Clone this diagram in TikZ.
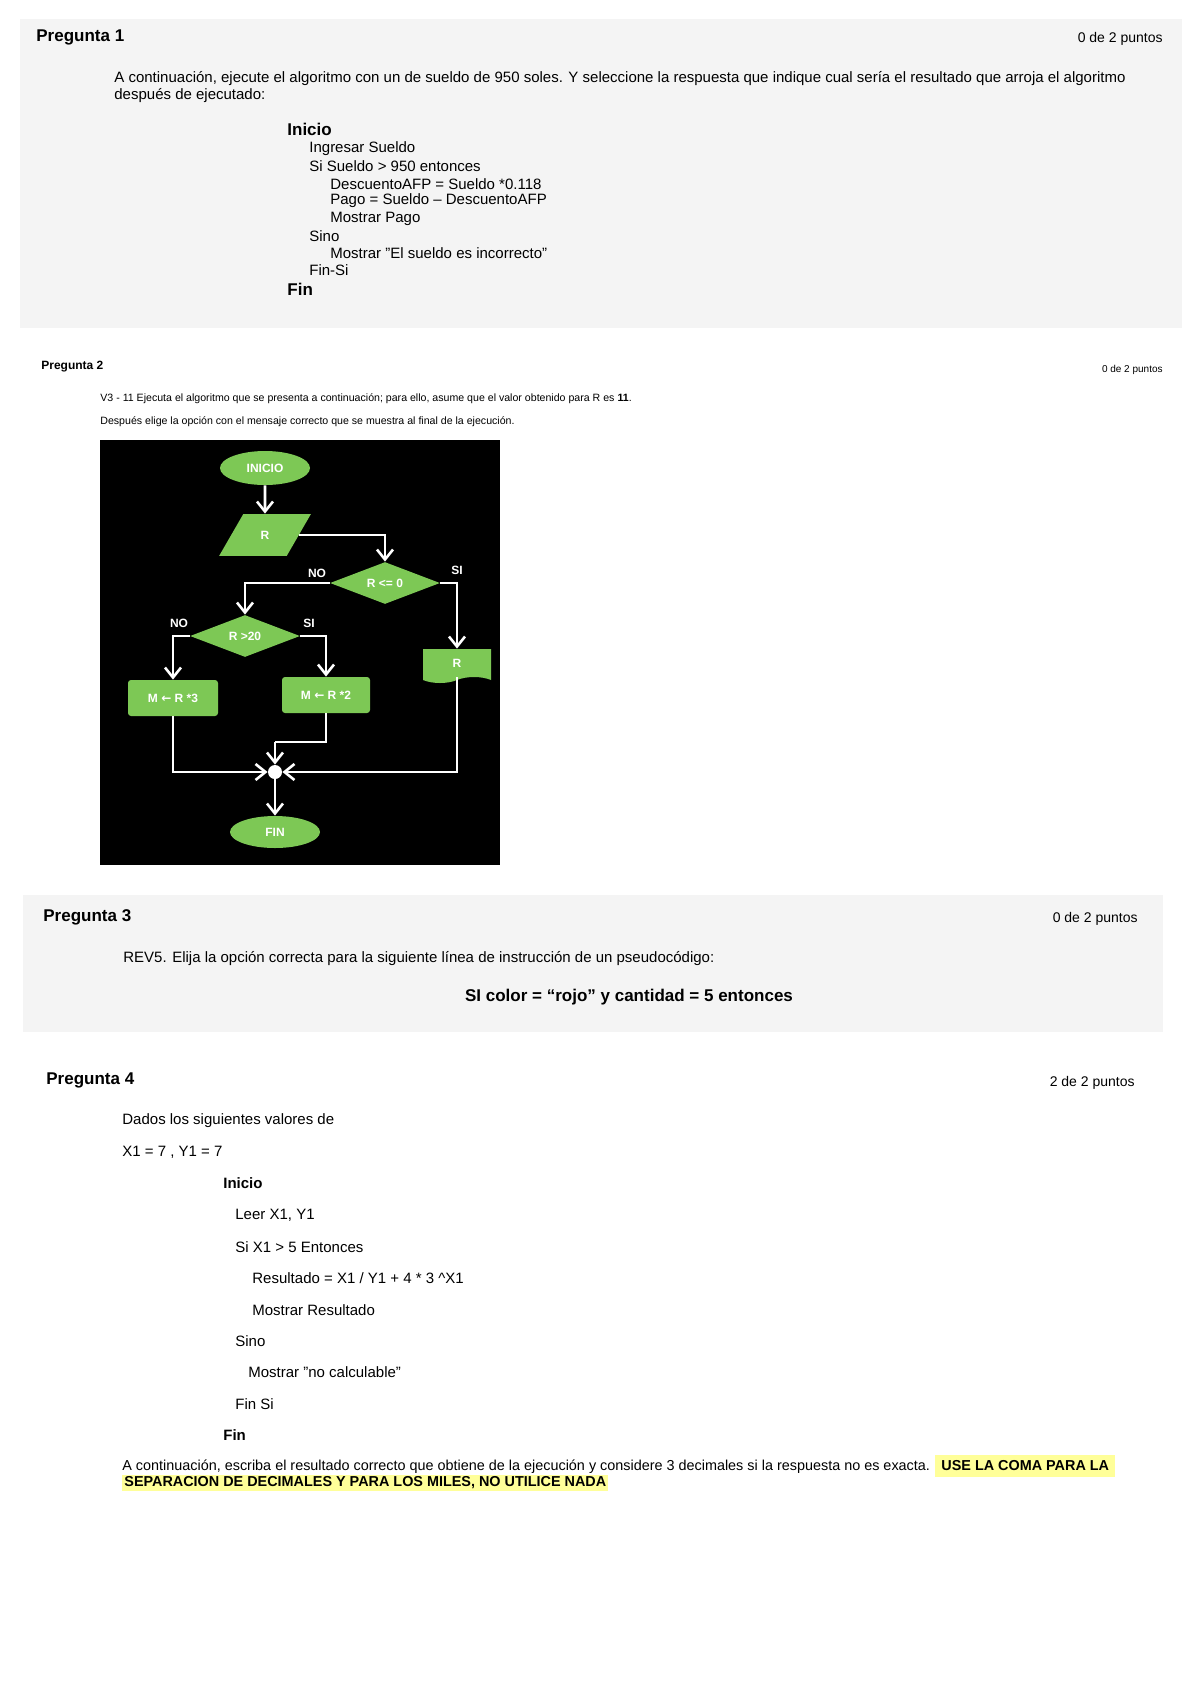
\documentclass[tikz,border=0pt]{standalone}
\usepackage{fontspec}
\setmainfont{Liberation Sans}
\newfontfamily\symfont{DejaVu Sans}
\usetikzlibrary{shapes.geometric,shapes.symbols,arrows.meta}
\definecolor{panel}{HTML}{F4F4F4}
\definecolor{fgreen}{HTML}{7DC855}
\definecolor{hl}{HTML}{FFFF99}
\begin{document}
\begin{tikzpicture}[x=0.5pt,y=-0.5pt,
  txt/.style={anchor=west,inner sep=0pt,font=\fontsize{7.5}{8}\selectfont},
  head/.style={anchor=west,inner sep=0pt,font=\fontsize{8.5}{10}\selectfont\bfseries},
  pts/.style={anchor=east,inner sep=0pt,font=\fontsize{7}{8}\selectfont},
  tiny/.style={anchor=west,inner sep=0pt,font=\fontsize{5.3}{6}\selectfont},
  gshape/.style={fill=fgreen,text=white,font=\fontsize{6}{7}\selectfont\bfseries,inner sep=1pt},
  lab/.style={text=white,font=\fontsize{6}{7}\selectfont\bfseries,inner sep=0pt},
  wl/.style={draw=white,line width=1.3pt},
  wa/.style={wl,-{Straight Barb[length=5pt,width=8pt]}}]
\useasboundingbox (0,0) rectangle (1200,1698);
\fill[white] (0,0) rectangle (1200,1698);
% Pregunta 1
\fill[panel] (20,19) rectangle (1182,328);
\node[head] (h1) at (36,37) {Pregunta 1};
\node[pts] (p1) at (1163,39) {0 de 2 puntos};
\node[txt] (t1a) at (114,79) {A continuación, ejecute el algoritmo con un de sueldo de 950 soles. Y seleccione la respuesta que indique cual sería el resultado que arroja el algoritmo};
\node[txt] (t1b) at (114,96) {después de ejecutado:};
\node[head] (i1) at (287,129) {Inicio};
\node[txt] (l1) at (309,149) {Ingresar Sueldo};
\node[txt] (l2) at (309,166) {Si Sueldo > 950 entonces};
\node[txt] (l3) at (330,184) {DescuentoAFP = Sueldo *0.118};
\node[txt] (l4) at (330,201) {Pago = Sueldo – DescuentoAFP};
\node[txt] (l5) at (330,219) {Mostrar Pago};
\node[txt] (l6) at (309,236) {Sino};
\node[txt] (l7) at (330,253) {Mostrar "El sueldo es incorrecto"};
\node[txt] (l8) at (309,270) {Fin-Si};
\node[head] (f1) at (287,289) {Fin};
% Pregunta 2
\node[head,font=\fontsize{6}{7}\selectfont\bfseries] (h2) at (41,367) {Pregunta 2};
\node[pts,font=\fontsize{5}{6}\selectfont] (p2) at (1163,370) {0 de 2 puntos};
\node[tiny] (t2a) at (100,399) {V3 - 11 Ejecuta el algoritmo que se presenta a continuación; para ello, asume que el valor obtenido para R es \textbf{11}.};
\node[tiny] (t2b) at (100,422) {Después elige la opción con el mensaje correcto que se muestra al final de la ejecución.};
\fill[black] (100,440) rectangle (500,865);
\node[gshape,ellipse,minimum width=45pt,minimum height=17pt] (ini) at (265,468) {INICIO};
\node[gshape,trapezium,trapezium left angle=60,trapezium right angle=120,minimum width=46pt,minimum height=13pt] (r) at (265,535) {R};
\node[gshape,diamond,aspect=2.6,minimum width=55pt,minimum height=21pt] (d1) at (385,583) {R <= 0};
\node[gshape,diamond,aspect=2.6,minimum width=55pt,minimum height=21pt] (d2) at (245,636) {R >20};
\node[gshape,rounded corners=1.5pt,minimum width=45pt,minimum height=18pt] (m3) at (173,698) {M {\symfont\bfseries ←} R *3};
\node[gshape,rounded corners=1.5pt,minimum width=44pt,minimum height=18pt] (m2) at (326,695) {M {\symfont\bfseries ←} R *2};
\node[gshape,tape,tape bend top=none,tape bend height=3pt,minimum width=34pt,minimum height=17pt] (ro) at (457,663) {R};
\node[fill=white,circle,inner sep=0pt,minimum size=7pt] (j) at (275,772) {};
\node[gshape,ellipse,minimum width=45pt,minimum height=16pt] (fin) at (275,832) {FIN};
\node[lab] (no1) at (317,573) {NO};
\node[lab] (si1) at (457,570) {SI};
\node[lab] (no2) at (179,623) {NO};
\node[lab] (si2) at (309,623) {SI};
\draw[wa] (ini) -- (r);
\draw[wa] (r.east) -| (d1.north);
\draw[wa] (d1.west) -| (d2.north);
\draw[wa] (d1.east) -| (ro.north);
\draw[wa] (d2.west) -| (m3.north);
\draw[wa] (d2.east) -| (m2.north);
\draw[wa] (m3.south) |- (j.west);
\draw[wa] (ro.south) |- (j.east);
\coordinate (c2) at (275,742);
\draw[wl] (m2.south) |- (c2);
\draw[wa] (c2) -- (j.north);
\draw[wa] (j.south) -- (fin.north);
% Pregunta 3
\fill[panel] (23,895) rectangle (1163,1032);
\node[head] (h3) at (43,917) {Pregunta 3};
\node[pts] (p3) at (1138,919) {0 de 2 puntos};
\node[txt] (t3) at (123,959) {REV5. Elija la opción correcta para la siguiente línea de instrucción de un pseudocódigo:};
\node[inner sep=0pt,font=\fontsize{8.5}{10}\selectfont\bfseries] (t3b) at (629,997) {SI color = “rojo” y cantidad = 5 entonces};
% Pregunta 4
\node[head] (h4) at (46,1080) {Pregunta 4};
\node[pts] (p4) at (1135,1083) {2 de 2 puntos};
\node[txt] (q1) at (122,1121) {Dados los siguientes valores de};
\node[txt] (q2) at (122,1152) {X1 = 7 , Y1 = 7};
\node[txt,font=\fontsize{7.5}{8}\selectfont\bfseries] (q3) at (223,1183) {Inicio};
\node[txt] (q4) at (235,1215) {Leer X1, Y1};
\node[txt] (q5) at (235,1247) {Si X1 > 5 Entonces};
\node[txt] (q6) at (252,1278) {Resultado = X1 / Y1 + 4 * 3 \string^X1};
\node[txt] (q7) at (252,1310) {Mostrar Resultado};
\node[txt] (q8) at (235,1341) {Sino};
\node[txt] (q9) at (248,1372) {Mostrar "no calculable"};
\node[txt] (q10) at (235,1404) {Fin Si};
\node[txt,font=\fontsize{7.5}{8}\selectfont\bfseries] (q11) at (223,1435) {Fin};
\node[txt,font=\fontsize{7.2}{8}\selectfont] (q12) at (122,1466) {A continuación, escriba el resultado correcto que obtiene de la ejecución y considere 3 decimales si la respuesta no es exacta. \colorbox{hl}{\bfseries USE LA COMA PARA LA}};
\node[txt,font=\fontsize{7.2}{8}\selectfont\bfseries,fill=hl,inner sep=1pt] (q13) at (122,1483) {SEPARACION DE DECIMALES Y PARA LOS MILES, NO UTILICE NADA};
\end{tikzpicture}
\end{document}
